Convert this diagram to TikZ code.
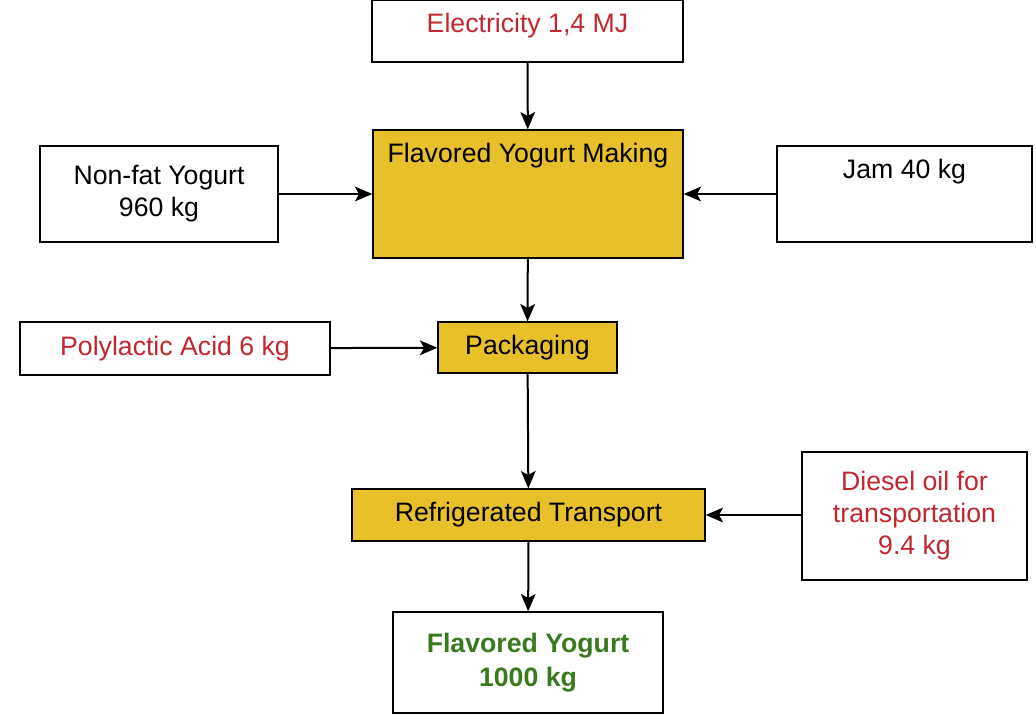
\documentclass[tikz,border=0pt]{standalone}
\usepackage{fontspec}
\setmainfont{Liberation Sans}
\usetikzlibrary{arrows.meta}
\definecolor{redt}{HTML}{C0282D}
\definecolor{greent}{HTML}{3A7A1E}
\definecolor{yell}{HTML}{E8C12A}
\begin{document}
\begin{tikzpicture}[x=0.75pt,y=-0.75pt,
  fnt/.style={font=\fontsize{20}{24}\selectfont},
  box/.style={draw=black,line width=1pt,fill=white,inner sep=0pt,align=center,fnt},
  proc/.style={box,fill=yell},
  arr/.style={-{Stealth[length=13pt,width=11pt,inset=3pt]},line width=1.5pt}]
\useasboundingbox (0,0) rectangle (1036,728);
\node[box,minimum width=233.25pt,minimum height=46.5pt,text=redt] (elec) at (527.5,31) {};
\node[fnt,text=redt,anchor=north] (elect) at (527.5,8) {Electricity 1,4 MJ};
\node[proc,minimum width=232.5pt,minimum height=96pt] (make) at (528,194) {};
\node[fnt,anchor=north] (maket) at (528,138) {Flavored Yogurt Making};
\node[box,minimum width=178.5pt,minimum height=72pt] (nonfat) at (159,194) {Non-fat Yogurt\\960 kg};
\node[box,minimum width=191.25pt,minimum height=72pt] (jam) at (904.5,194) {};
\node[fnt,anchor=north] (jamt) at (904.5,154) {Jam 40 kg};
\node[proc,minimum width=134.25pt,minimum height=38.25pt] (pack) at (527.5,347.5) {Packaging};
\node[box,minimum width=232.5pt,minimum height=39.75pt,text=redt] (pla) at (175,348.5) {Polylactic Acid 6 kg};
\node[proc,minimum width=264.75pt,minimum height=39pt] (trans) at (528.5,515) {Refrigerated Transport};
\node[box,minimum width=168.75pt,minimum height=96pt,text=redt] (diesel) at (914.5,516) {Diesel oil for\\transportation\\9.4 kg};
\node[box,minimum width=202.5pt,minimum height=75.75pt,text=greent,font=\fontsize{20}{26}\bfseries\selectfont] (out) at (528,662.5) {Flavored Yogurt\\1000 kg};
\draw[arr] (elec) -- (make);
\draw[arr] (nonfat) -- (make);
\draw[arr] (jam) -- (make);
\draw[arr] (make) -- (pack);
\draw[arr] (pla) -- (pack);
\draw[arr] (pack) -- (trans);
\draw[arr] (diesel.west|-trans) -- (trans);
\draw[arr] (trans) -- (out);
\end{tikzpicture}
\end{document}
